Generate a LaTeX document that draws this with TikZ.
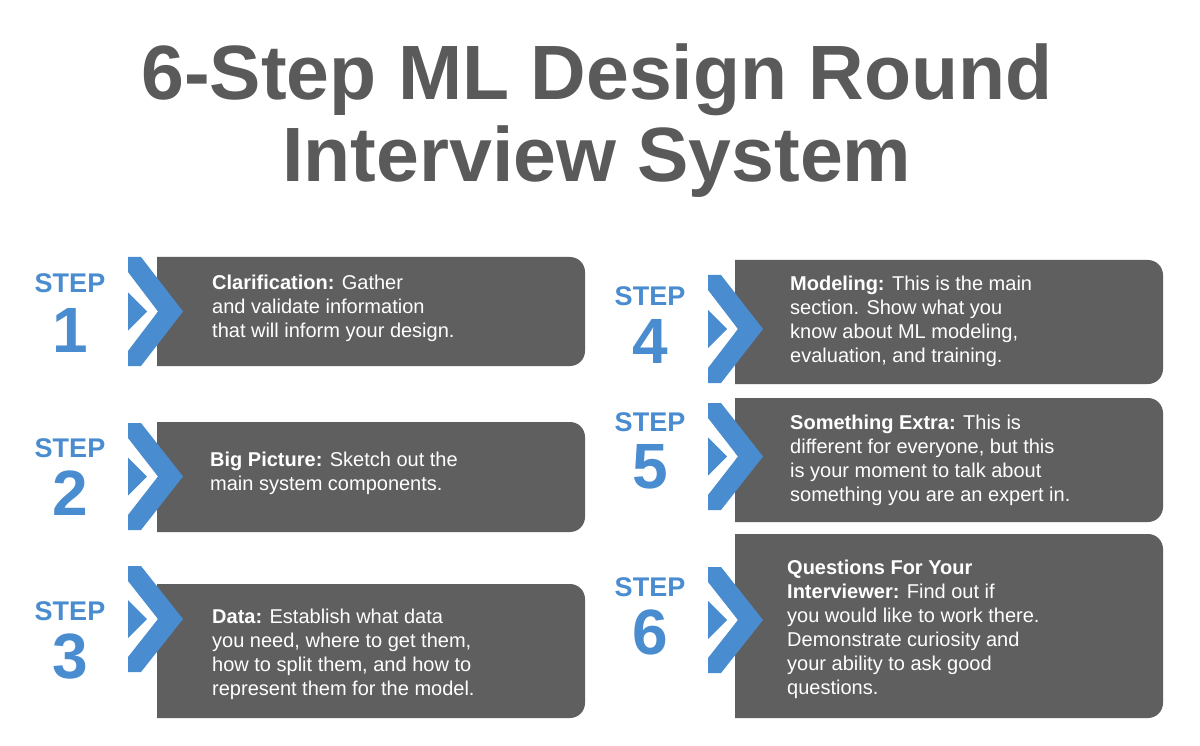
\documentclass[tikz,border=0pt]{standalone}
\usepackage{fontspec}
\setmainfont{Liberation Sans}
\definecolor{boxgray}{HTML}{5F5F5F}
\definecolor{titlegray}{HTML}{5A5A5A}
\definecolor{stepblue}{HTML}{4A8CD0}
\newcommand{\chev}[3]{% x0, top, bottom
  \pgfmathsetmacro{\mm}{(#2+#3)/2}
  \fill[white] (#1,#2+15) -- (#1+30,\mm) -- (#1,#3-15) -- cycle;
  \fill[stepblue] (#1,\mm-19) -- (#1+19,\mm) -- (#1,\mm+19) -- cycle;
  \fill[stepblue] (#1,#2) -- (#1+13,#2) -- (#1+55,\mm) -- (#1+13,#3) -- (#1,#3) -- (#1,#3-15) -- (#1+30,\mm) -- (#1,#2+15) -- cycle;
}
\newcommand{\panelbox}[5]{%
  \fill[boxgray] (#2,#5) -- (#2,#3) [rounded corners=15pt] -- (#4,#3) -- (#4,#5) [sharp corners] -- (#2,#5) -- cycle;
  \coordinate (#1) at (#2,{(#3+#5)/2});
}
\begin{document}
\begin{tikzpicture}[x=1pt,y=-1pt,
  body/.style={text=white, font=\fontsize{20}{24}\selectfont, align=left, anchor=west, inner sep=0pt},
  steplbl/.style={text=stepblue, font=\fontsize{27}{27}\bfseries\selectfont, inner sep=0pt},
  stepnum/.style={text=stepblue, font=\fontsize{64}{64}\bfseries\selectfont, inner sep=0pt}]
\useasboundingbox (0,0) rectangle (1200,746);
\fill[white] (0,0) rectangle (1200,746);
\node[text=titlegray, font=\fontsize{77}{82}\bfseries\selectfont, align=center, inner sep=0pt] (title) at (597,121) {6-Step ML Design Round\\Interview System};
\panelbox{b1}{157}{257}{585}{366}
\panelbox{b2}{157}{422}{585}{532}
\panelbox{b3}{157}{584}{585}{718}
\panelbox{b4}{735}{260}{1163}{384}
\panelbox{b5}{735}{398}{1163}{522}
\panelbox{b6}{735}{534}{1163}{718}
\chev{128}{257}{366}
\chev{128}{423}{530}
\chev{128}{566}{672}
\chev{708}{275}{383}
\chev{708}{403}{510}
\chev{708}{567}{673}
\node[steplbl] (s1) at (70,283) {STEP}; \node[stepnum] (n1) at (70,330) {1};
\node[steplbl] (s2) at (70,448) {STEP}; \node[stepnum] (n2) at (70,493) {2};
\node[steplbl] (s3) at (70,611) {STEP}; \node[stepnum] (n3) at (70,657) {3};
\node[steplbl] (s4) at (650,296) {STEP}; \node[stepnum] (n4) at (650,341) {4};
\node[steplbl] (s5) at (650,422) {STEP}; \node[stepnum] (n5) at (650,467) {5};
\node[steplbl] (s6) at (650,587) {STEP}; \node[stepnum] (n6) at (650,632) {6};
\node[body] (t1) at ([xshift=55pt,yshift=3pt]b1) {\textbf{Clarification:} Gather\\and validate information\\that will inform your design.};
\node[body] (t2) at ([xshift=53pt,yshift=4pt]b2) {\textbf{Big Picture:} Sketch out the\\main system components.};
\node[body] (t3) at ([xshift=55pt,yshift=-3pt]b3) {\textbf{Data:} Establish what data\\you need, where to get them,\\how to split them, and how to\\represent them for the model.};
\node[body] (t4) at ([xshift=55pt,yshift=1pt]b4) {\textbf{Modeling:} This is the main\\section. Show what you\\know about ML modeling,\\evaluation, and training.};
\node[body] (t5) at ([xshift=55pt]b5) {\textbf{Something Extra:} This is\\different for everyone, but this\\is your moment to talk about\\something you are an expert in.};
\node[body] (t6) at ([xshift=52pt,yshift=-3pt]b6) {\textbf{Questions For Your}\\\textbf{Interviewer:} Find out if\\you would like to work there.\\Demonstrate curiosity and\\your ability to ask good\\questions.};
\end{tikzpicture}
\end{document}
